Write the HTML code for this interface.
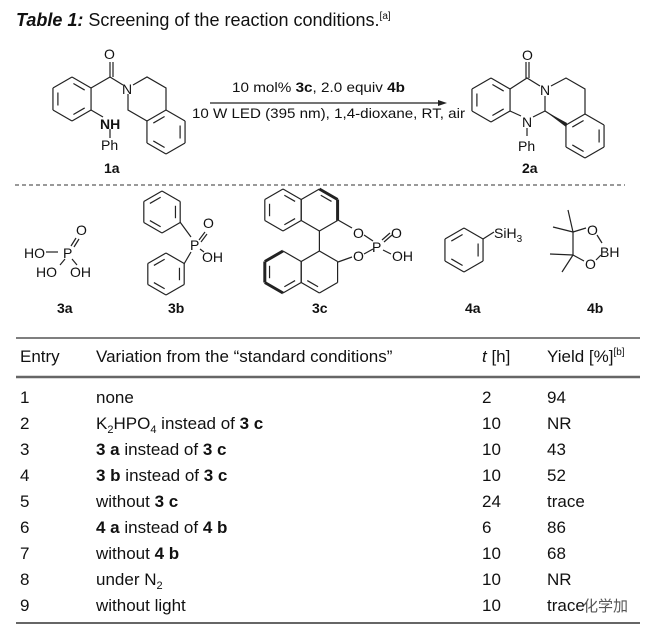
<!DOCTYPE html>
<html><head><meta charset="utf-8"><style>
html,body{margin:0;padding:0;background:#fff}
svg{display:block}
text{font-family:"Liberation Sans",sans-serif;fill:#111}
.c{font-size:14px}
.l{font-size:14px;font-weight:bold}
.t{font-size:17px}
</style></head><body>
<svg id="s" width="655" height="636" viewBox="0 0 655 636" xmlns="http://www.w3.org/2000/svg">
<text x="16" y="26" font-size="18"><tspan font-weight="bold" font-style="italic">Table 1:</tspan> Screening of the reaction conditions.<tspan font-size="10" dy="-7">[a]</tspan></text>
<g id="b" stroke="#222" stroke-width="1.2" fill="none">
<!-- 1a -->
<line x1="91" y1="88" x2="110" y2="77"/><line x1="110" y1="77" x2="110" y2="62"/><line x1="113" y1="77" x2="113" y2="62"/>
<line x1="110" y1="77" x2="123" y2="85"/>
<polyline points="133,85 147,77 166,88 166,110"/><polyline points="128,94 128,110 147,121"/>
<line x1="91" y1="110" x2="103" y2="117"/><line x1="110" y1="129" x2="110" y2="138"/>
<!-- arrow -->
<line x1="210" y1="103" x2="440" y2="103"/>
<!-- 2a -->
<polyline points="510,89 527,78 540,86"/><line x1="526" y1="78" x2="526" y2="62"/><line x1="529" y1="78" x2="529" y2="62"/>
<line x1="545" y1="96" x2="545" y2="111"/><line x1="545" y1="111" x2="533" y2="117"/><line x1="510" y1="111" x2="521" y2="116"/>
<polyline points="551,86 566,78 585,89 585,114"/><line x1="545" y1="111" x2="567" y2="125"/>
<line x1="527" y1="128" x2="527" y2="136"/>
<!-- 3a -->
<line x1="46" y1="252" x2="58" y2="252"/><line x1="71" y1="246" x2="76" y2="238"/><line x1="74" y1="247" x2="79" y2="239"/>
<line x1="65" y1="259" x2="60" y2="265"/><line x1="72" y1="259" x2="77" y2="265"/>
<!-- 3b -->
<line x1="180" y1="222" x2="191" y2="237"/><line x1="184" y1="264" x2="191" y2="252"/>
<line x1="199" y1="240" x2="205" y2="232"/><line x1="201" y1="242" x2="207" y2="234"/>
<line x1="200" y1="249" x2="204" y2="252"/>
<!-- 3c -->
<line x1="319.4" y1="231" x2="319.4" y2="251"/>
<line x1="338" y1="220" x2="352" y2="228"/><line x1="338" y1="262" x2="352" y2="257"/>
<line x1="364" y1="235" x2="373" y2="241"/><line x1="364" y1="254" x2="373" y2="249"/>
<line x1="382" y1="240" x2="390" y2="233"/><line x1="384" y1="242" x2="392" y2="235"/>
<line x1="383" y1="250" x2="391" y2="254"/>
<!-- 4a -->
<line x1="483" y1="239" x2="494" y2="232"/>
<!-- 4b -->
<line x1="573" y1="232" x2="573" y2="255"/><line x1="573" y1="232" x2="586" y2="228"/><line x1="573" y1="255" x2="584" y2="261"/>
<line x1="597" y1="235" x2="602" y2="243"/><line x1="596" y1="260" x2="601" y2="255"/>
<line x1="573" y1="232" x2="553" y2="227"/><line x1="573" y1="232" x2="568" y2="210"/>
<line x1="573" y1="255" x2="550" y2="254"/><line x1="573" y1="255" x2="562" y2="272"/>
</g>
<polygon points="438,100 447,103 438,106" fill="#222"/>
<polygon points="545,111 567,123 566,127" fill="#222"/>
<line x1="15" y1="185" x2="625" y2="185" stroke="#333" stroke-width="1" stroke-dasharray="4,3"/>
<g class="c">
<text x="104" y="59">O</text>
<text x="122" y="94">N</text>
<text x="100" y="129" font-weight="bold">NH</text>
<text x="101" y="150">Ph</text>
<text x="232" y="92" font-size="14" textLength="173" lengthAdjust="spacingAndGlyphs">10 mol% <tspan font-weight="bold">3c</tspan>, 2.0 equiv <tspan font-weight="bold">4b</tspan></text>
<text x="192" y="118" font-size="14" textLength="273" lengthAdjust="spacingAndGlyphs">10 W LED  (395 nm), 1,4-dioxane, RT, air</text>
<text x="522" y="60">O</text>
<text x="540" y="95">N</text>
<text x="522" y="127">N</text>
<text x="518" y="151">Ph</text>
<text x="24" y="258">HO</text><text x="63" y="258">P</text><text x="76" y="235">O</text>
<text x="36" y="277">HO</text><text x="70" y="277">OH</text>
<text x="190" y="250">P</text><text x="203" y="228">O</text><text x="202" y="262">OH</text>
<text x="353" y="238">O</text><text x="353" y="261">O</text><text x="372" y="252">P</text><text x="391" y="238">O</text><text x="392" y="261">OH</text>
<text x="494" y="238">SiH<tspan font-size="10" dy="4">3</tspan></text>
<text x="587" y="235">O</text><text x="600" y="257">BH</text><text x="585" y="269">O</text>
</g>
<g class="l">
<text x="104" y="173">1a</text><text x="522" y="173">2a</text>
<text x="57" y="313">3a</text><text x="168" y="313">3b</text><text x="312" y="313">3c</text><text x="465" y="313">4a</text><text x="587" y="313">4b</text>
</g>
<g stroke="#333">
<line x1="16" y1="338" x2="640" y2="338" stroke-width="1.2"/>
<line x1="16" y1="377" x2="640" y2="377" stroke-width="2.5" stroke="#666"/>
<line x1="16" y1="623" x2="640" y2="623" stroke-width="1.5"/>
</g>
<g class="t">
<text x="20" y="362">Entry</text><text x="96" y="362">Variation from the “standard conditions”</text>
<text x="482" y="362"><tspan font-style="italic">t</tspan> [h]</text><text x="547" y="362">Yield [%]<tspan font-size="10" dy="-7">[b]</tspan></text>
<text x="20" y="403">1</text><text x="96" y="403">none</text><text x="482" y="403">2</text><text x="547" y="403">94</text>
<text x="20" y="429">2</text><text x="96" y="429">K<tspan font-size="11" dy="4">2</tspan><tspan dy="-4">HPO</tspan><tspan font-size="11" dy="4">4</tspan><tspan dy="-4"> instead of </tspan><tspan font-weight="bold">3 c</tspan></text><text x="482" y="429">10</text><text x="547" y="429">NR</text>
<text x="20" y="455">3</text><text x="96" y="455"><tspan font-weight="bold">3 a</tspan> instead of <tspan font-weight="bold">3 c</tspan></text><text x="482" y="455">10</text><text x="547" y="455">43</text>
<text x="20" y="481">4</text><text x="96" y="481"><tspan font-weight="bold">3 b</tspan> instead of <tspan font-weight="bold">3 c</tspan></text><text x="482" y="481">10</text><text x="547" y="481">52</text>
<text x="20" y="507">5</text><text x="96" y="507">without <tspan font-weight="bold">3 c</tspan></text><text x="482" y="507">24</text><text x="547" y="507">trace</text>
<text x="20" y="533">6</text><text x="96" y="533"><tspan font-weight="bold">4 a</tspan> instead of <tspan font-weight="bold">4 b</tspan></text><text x="482" y="533">6</text><text x="547" y="533">86</text>
<text x="20" y="559">7</text><text x="96" y="559">without <tspan font-weight="bold">4 b</tspan></text><text x="482" y="559">10</text><text x="547" y="559">68</text>
<text x="20" y="585">8</text><text x="96" y="585">under N<tspan font-size="11" dy="4">2</tspan></text><text x="482" y="585">10</text><text x="547" y="585">NR</text>
<text x="20" y="611">9</text><text x="96" y="611">without light</text><text x="482" y="611">10</text><text x="547" y="611">trace</text>
</g>
<text x="583" y="611" font-size="15" style="font-family:'Liberation Sans','Noto Sans CJK SC',sans-serif;fill:#555">化学加</text>
</svg>
<script>
(function(){
var g=document.getElementById('b'),NS='http://www.w3.org/2000/svg';
function ln(a,b,c,d,w){var l=document.createElementNS(NS,'line');l.setAttribute('x1',a);l.setAttribute('y1',b);l.setAttribute('x2',c);l.setAttribute('y2',d);if(w)l.setAttribute('stroke-width',w);g.appendChild(l);}
function hex(cx,cy,r,dbl,bold){bold=bold||[];var v=[];for(var k=0;k<6;k++){var a=(-90+60*k)*Math.PI/180;v.push([cx+r*Math.cos(a),cy+r*Math.sin(a)]);}
for(var k=0;k<6;k++){var p=v[k],q=v[(k+1)%6];ln(p[0],p[1],q[0],q[1],bold.indexOf(k)>=0?3:0);}
dbl.forEach(function(k){var p=v[k],q=v[(k+1)%6],s=0.74;var p2=[cx+(p[0]-cx)*s,cy+(p[1]-cy)*s],q2=[cx+(q[0]-cx)*s,cy+(q[1]-cy)*s];var t=0.1;ln(p2[0]+(q2[0]-p2[0])*t,p2[1]+(q2[1]-p2[1])*t,q2[0]-(q2[0]-p2[0])*t,q2[1]-(q2[1]-p2[1])*t);});}
hex(72,99,22,[0,2,4]);hex(166,132,22,[1,3,5]);
hex(491,100,22,[0,2,4]);hex(585,136,22,[1,3,5]);
hex(162,212,21,[1,3,5]);hex(166,274,21,[1,3,5]);
hex(283,210,21,[0,2,4]);hex(319.4,210,21,[0],[0,1]);
hex(283,272,21,[2,4],[3,4,5]);hex(319.4,272,21,[3]);
hex(464,250,22,[1,3,5]);
})();
</script>
</body></html>
